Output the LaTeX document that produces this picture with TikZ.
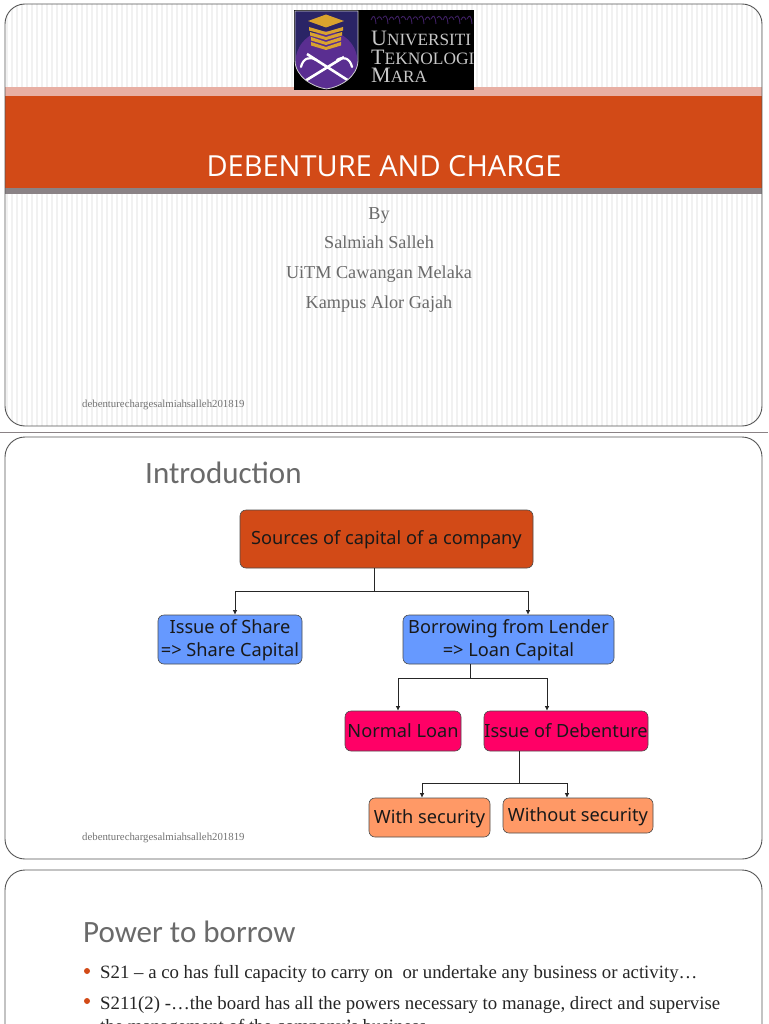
\documentclass[tikz,border=0pt]{standalone}
\usepackage{fontspec}
\usetikzlibrary{calc,arrows.meta}
\setmainfont{Liberation Serif}
\newfontfamily\headf{Carlito}
\newfontfamily\boxf{Noto Sans}
\newfontfamily\titlef{Open Sans}
\newcommand{\dn}{\rule[-4pt]{0pt}{20pt}}
\definecolor{rust}{HTML}{D24A17}
\definecolor{blush}{HTML}{E8AFA3}
\definecolor{band}{HTML}{8A8285}
\definecolor{bluebox}{HTML}{6699FF}
\definecolor{pinkbox}{HTML}{FF0066}
\definecolor{orangebox}{HTML}{FF9966}
\definecolor{edgeg}{HTML}{555555}
\definecolor{txtg}{HTML}{6A6A6A}
\definecolor{stripe}{HTML}{F1F1F1}
\definecolor{shield}{HTML}{5A2E91}
\definecolor{navy}{HTML}{2A2466}
\definecolor{gold}{HTML}{D9A32E}
\tikzset{
  x=1pt,y=-1pt,
  slide/.style={draw=edgeg,line width=0.9pt,rounded corners=20pt},
  flow/.style={draw=black!70,line width=0.6pt,rounded corners=6pt,inner sep=0pt,font=\boxf\fontsize{18.2}{23}\selectfont,text=black!90,align=center},
  conn/.style={draw=black!85,line width=0.8pt},
  tip/.style={conn,-{Latex[length=4.5pt,width=4.5pt]}},
  serifline/.style={anchor=base,text=txtg,font=\fontsize{18.2}{20}\selectfont},
  footer/.style={anchor=base west,inner sep=0pt,text=black!55,font=\fontsize{10.8}{12}\selectfont},
  heading/.style={anchor=west,inner sep=0pt,text=txtg,font=\headf\fontsize{31}{34}\selectfont},
  bodytext/.style={anchor=base west,inner sep=0pt,text=black!85,font=\fontsize{18.8}{22}\selectfont},
  bulletdot/.style={circle,fill=rust,inner sep=0pt,minimum size=6pt},
  logotext/.style={anchor=base west,inner sep=0pt,text height=14pt,text depth=0pt,text=white!78!black}
}
\begin{document}
\begin{tikzpicture}
\useasboundingbox (0,0) rectangle (768,1024);
\fill[white] (0,0) rectangle (768,1024);
\clip (0,0) rectangle (768,1024);
% slide 1
\begin{scope}
  \clip[rounded corners=20pt] (5,4) rectangle (762,426);
  \foreach \i in {7,12,...,762} \draw[stripe,line width=1.8pt] (\i,4) -- (\i,426);
  \fill[blush] (5,87) rectangle (762,96);
  \fill[rust] (5,96) rectangle (762,188);
  \fill[band] (5,188) rectangle (762,194);
\end{scope}
\draw[slide] (5,4) rectangle (762,426);
% logo
\fill[black] (294,10) rectangle (474,90);
\begin{scope}
  \clip (295,11) -- (358,11) -- (358,60) .. controls (358,77) and (340,87) .. (326.5,89) .. controls (313,87) and (295,77) .. (295,60) -- cycle;
  \fill[navy] (295,11) rectangle (358,90);
  \fill[shield] (326.5,62) circle (31);
  \fill[gold] (308,21) -- (326,14.5) -- (344,21) -- (326,27.5) -- cycle;
  \foreach \y/\w in {27/17,32/16,37/15,42/15} \fill[gold] (326-\w,\y) -- (326,\y+5) -- (326+\w,\y) -- (326+\w,\y+3.5) -- (326,\y+8) -- (326-\w,\y+3.5) -- cycle;
  \draw[white,line width=2.6pt] (305,81) -- (344,57) (307,54) -- (349,81);
  \draw[white,line width=2.2pt,line cap=round] (301,67) .. controls (303,58) and (310,56) .. (316,60) (352,67) .. controls (350,58) and (343,56) .. (337,60);
\end{scope}
\draw[white!80!black,line width=0.8pt] (295,11) -- (358,11) -- (358,60) .. controls (358,77) and (340,87) .. (326.5,89) .. controls (313,87) and (295,77) .. (295,60) -- cycle;
\begin{scope}
  \clip (294,10) rectangle (474,90);
  \foreach \i in {0,...,16} \draw[shield!70!black,line width=0.9pt] ({371+6*\i},{20-mod(\i,3)}) .. controls ({373+6*\i},{15}) and ({375+6*\i},{14+mod(\i,2)*3}) .. ({376+6*\i},{24-mod(\i,2)*4});
  \node[logotext] (uni) at (371,45.5) {\fontsize{22}{23}\selectfont U\fontsize{17.2}{23}\selectfont NIVERSITI};
  \node[logotext] (tek) at (371,64.5) {\fontsize{22}{23}\selectfont T\fontsize{17.4}{23}\selectfont EKNOLOGI};
  \node[logotext] (mar) at (371,83) {\fontsize{22}{23}\selectfont M\fontsize{17.2}{23}\selectfont ARA};
\end{scope}
% slide 1 text
\node[text=white,font=\titlef\fontsize{29}{32}\selectfont] (title) at (384,166) {DEBENTURE AND CHARGE};
\node[serifline] (by) at (379,219) {By};
\node[serifline] (n1) at (379,248) {Salmiah Salleh};
\node[serifline] (n2) at (379,278) {UiTM Cawangan Melaka};
\node[serifline] (n3) at (379,308) {Kampus Alor Gajah};
\node[footer] (f1) at (82,407) {debenturechargesalmiahsalleh201819};
% separator
\draw[band,line width=0.8pt] (0,432.5) -- (768,432.5);
% slide 2
\draw[slide] (5,437) rectangle (762,859);
\node[heading] (intro) at (145,473) {Introduction};
\node[flow,fill=rust,minimum width=293pt,minimum height=58pt] (root) at (386.5,539) {\dn Sources of capital of a company};
\node[flow,fill=bluebox,minimum width=144pt,minimum height=49pt] (share) at (230,639.5) {\dn Issue of Share\\\dn => Share Capital};
\node[flow,fill=bluebox,minimum width=211pt,minimum height=49pt] (borrow) at (508.5,639.5) {\dn Borrowing from Lender\\\dn => Loan Capital};
\node[flow,fill=pinkbox,minimum width=116pt,minimum height=40pt] (normal) at (403,731) {\dn Normal Loan};
\node[flow,fill=pinkbox,minimum width=164pt,minimum height=40pt] (deb) at (566,731) {\dn Issue of Debenture};
\node[flow,fill=orangebox,minimum width=121pt,minimum height=39pt] (with) at (429.5,817.5) {\dn With security};
\node[flow,fill=orangebox,minimum width=150pt,minimum height=35pt] (without) at (578,815.5) {\dn Without security};
\node[footer] (f2) at (82,840) {debenturechargesalmiahsalleh201819};
% connectors
\coordinate (ja) at (374.5,591);
\coordinate (jb) at (470.5,678);
\coordinate (jc) at (519,783);
\draw[conn] (root.south -| ja) -- (ja);
\draw[tip] (ja) -| ($(share.north)+(5,0)$);
\draw[tip] (ja) -| ($(borrow.north)+(19.5,0)$);
\draw[conn] (borrow.south -| jb) -- (jb);
\draw[tip] (jb) -| ($(normal.north)+(-5,0)$);
\draw[tip] (jb) -| ($(deb.north)+(-19,0)$);
\draw[conn] (deb.south -| jc) -- (jc);
\draw[tip] (jc) -| ($(with.north)+(-7.5,0)$);
\draw[tip] (jc) -| ($(without.north)+(-11,0)$);
% slide 3
\draw[slide] (5,870) rectangle (762,1100);
\node[heading] (power) at (83,932) {Power to borrow};
\node[bulletdot] (b1) at (87,971) {};
\node[bodytext] (l1) at (100,978) {S21 – a co has full capacity to carry on\ \ or undertake any business or activity…};
\node[bulletdot] (b2) at (87,1001) {};
\node[bodytext] (l2) at (100,1009) {S211(2) -…the board has all the powers necessary to manage, direct and supervise};
\begin{scope}
\clip (0,1000) rectangle (768,1024);
\node[bodytext] (l3) at (100,1032) {the management of the company's business};
\end{scope}
\end{tikzpicture}
\end{document}
